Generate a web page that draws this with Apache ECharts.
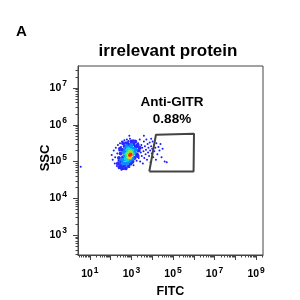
<!DOCTYPE html>
<html>
<head>
<meta charset="utf-8">
<script src="https://cdn.jsdelivr.net/npm/echarts@6/dist/echarts.min.js"></script>
<style>
html, body { margin: 0; padding: 0; background: #fff; }
#chart { width: 300px; height: 300px; }
</style>
</head>
<body>
<div id="chart"></div>
<script>
// all values are log10 units (FITC on x, SSC on y)
var xTicks = [1, 2, 3, 4, 5, 6, 7, 8, 9];
var xLabels = [1, 3, 5, 7, 9];
var yTicks = [3, 4, 5, 6, 7];
var yLabels = [3, 4, 5, 6, 7];

// gate polygon
var gateX = [3.86, 4.18, 6.01, 5.99, 3.86];
var gateY = [4.73, 5.73, 5.76, 4.73, 4.73];

// cells, grouped by density (sparse -> dense)
var bluePts = [[2.05,5.18],[2.1,5.05],[2.15,5.3],[2.2,4.95],[2.22,5.12],[2.25,5.38],[2.3,4.88],[2.32,5.22],
  [2.35,5.45],[2.38,5.02],[2.4,4.82],[2.42,5.3],[2.45,5.5],[2.48,4.92],[2.5,5.4],[2.52,4.78],[2.55,5.55],
  [2.58,4.86],[2.6,5.48],[2.62,4.8],[2.66,5.58],[2.68,4.84],[2.72,5.52],[2.75,4.79],[2.78,5.6],[2.82,4.88],
  [2.85,5.56],[2.9,4.85],[2.93,5.62],[2.98,4.92],[3.0,5.5],[3.05,4.96],[3.08,5.58],[3.1,5.05],[3.15,5.45],
  [3.18,5.12],[3.2,5.55],[3.22,5.3],[3.25,5.02],[3.28,5.4],[3.3,5.2],[3.32,5.5],[3.35,5.1],[3.38,5.35],
  [3.4,5.6],[3.42,5.0],[3.45,5.25],[3.48,5.45],[3.5,5.15],[3.52,5.38],[3.55,4.95],[3.58,5.28],[3.6,5.55],
  [3.62,5.1],[3.65,5.42],[3.68,5.2],[3.7,5.32],[3.72,5.6],[3.75,5.05],[3.78,5.48],[3.8,5.25],[3.82,5.38],
  [3.85,5.15],[3.88,5.52],[3.9,5.3],[3.92,4.98],[3.95,5.42],[3.98,5.22],[4.0,5.35],[4.02,5.55],[4.05,5.12],
  [4.08,5.45],[4.1,5.28],[4.15,5.38],[4.18,5.05],[4.2,5.5],[4.25,5.2],[4.3,5.4],[4.35,5.3],[4.4,5.48],
  [4.45,5.12],[4.5,5.35],[4.6,5.0],[4.7,4.98],[0.56,4.86],[3.1,4.9],[2.9,5.7],[3.6,5.7],[3.95,5.62]];
var densePts = [[2.35,4.95],[2.4,5.1],[2.42,4.85],[2.48,5.22],[2.5,5.0],[2.55,4.82],[2.55,5.32],[2.6,5.12],
  [2.65,4.9],[2.68,5.42],[2.72,4.82],[2.75,5.3],[2.8,5.5],[2.85,4.88],[2.9,5.45],[2.95,4.95],[3.0,5.55],
  [3.05,5.0],[3.1,5.48],[3.15,5.1],[3.2,5.4],[3.25,5.2],[3.3,5.45],[3.35,5.3],[3.4,5.38],[2.45,5.35],
  [2.6,5.5],[3.18,5.55],[2.5,4.9],[3.3,5.15]];
var cyanPts = [[2.55,5.05],[2.58,4.95],[2.62,5.25],[2.65,5.05],[2.7,5.35],[2.72,4.95],[2.78,5.42],[2.8,4.95],
  [2.88,5.38],[2.92,5.02],[3.0,5.45],[3.05,5.08],[3.1,5.35],[3.15,5.25],[3.2,5.32],[2.68,5.15],[2.98,5.4],
  [2.85,5.0]];
var aquaPts = [[2.72,5.08],[2.75,5.2],[2.8,5.3],[2.82,5.05],[2.9,5.32],[2.95,5.1],[3.02,5.3],[3.08,5.2],
  [2.85,5.35],[2.78,5.12]];
var greenPts = [[2.85,5.12],[2.9,5.22],[2.95,5.15],[3.0,5.25],[2.82,5.2],[2.92,5.28]];
var yellowPts = [[2.88,5.15],[2.95,5.2],[2.92,5.12]];
var redPts = [[2.92,5.17],[2.96,5.2]];

var X_MIN = 0.43, X_MAX = 9.33;
var Y_MIN = 2.46, Y_MAX = 7.6;
var AXIS_COLOR = '#444';
var FONT = 'Liberation Sans';
var NARROW = '"Liberation Sans Narrow", "Liberation Sans"';

// log minor ticks (2..9 in every decade)
var minorOf = function (lo, hi) {
    var out = [];
    for (var d = Math.floor(lo); d < hi; d++) {
        for (var k = 2; k <= 9; k++) {
            var v = d + Math.log10(k);
            if (v > lo && v < hi) out.push(v);
        }
    }
    return out;
};

var powLabel = function (v) {
    return '{b|10}{s|' + Math.round(v) + '}';
};
var labelRich = {
    b: { fontSize: 10.5, fontWeight: 'bold', color: '#000', fontFamily: FONT },
    s: { fontSize: 8.5, fontWeight: 'bold', color: '#000', fontFamily: FONT, padding: [0, 0, 8, 1] }
};

var mainAxis = function (min, max, ticks, labels, margin, extra) {
    var o = {
        type: 'value', min: min, max: max,
        splitLine: { show: false },
        axisLine: { show: true, lineStyle: { color: AXIS_COLOR, width: 1 } },
        axisTick: { show: true, inside: false, length: 5, customValues: ticks, lineStyle: { color: AXIS_COLOR } },
        axisLabel: { show: true, customValues: labels, formatter: powLabel, rich: labelRich, margin: margin }
    };
    for (var k in extra) o[k] = extra[k];
    return o;
};
var minorAxis = function (min, max, position) {
    return {
        type: 'value', min: min, max: max, position: position,
        splitLine: { show: false },
        axisLine: { show: false },
        axisLabel: { show: false },
        axisTick: { show: true, length: 2.5, customValues: minorOf(min, max), lineStyle: { color: AXIS_COLOR } }
    };
};

var dots = function (data, color, size) {
    return {
        type: 'scatter', data: data, symbolSize: size, silent: true,
        itemStyle: { color: color, opacity: 1 }
    };
};

var option = {
    animation: false,
    title: [
        { text: 'A', left: 11, top: 19, textStyle: { fontSize: 15, fontWeight: 'bold', color: '#000', fontFamily: FONT } },
        { text: 'irrelevant protein', left: 163, top: 38, textAlign: 'center',
          textStyle: { fontSize: 17, fontWeight: 'bold', color: '#000', fontFamily: FONT } },
        { text: 'Anti-GITR\n0.88%', left: 167, top: 89, textAlign: 'center',
          textStyle: { fontSize: 13.5, fontWeight: 'bold', color: '#000', lineHeight: 17, fontFamily: FONT } }
    ],
    grid: {
        left: 78, top: 66, right: 37, bottom: 45, outerBoundsMode: 'none',
        show: true, borderColor: AXIS_COLOR, borderWidth: 1
    },
    xAxis: [
        mainAxis(X_MIN, X_MAX, xTicks, xLabels, 11, {
            name: 'FITC', nameLocation: 'middle', nameGap: 30, nameMoveOverlap: false,
            nameTextStyle: { fontSize: 12.5, fontWeight: 'bold', color: '#000', fontFamily: FONT }
        }),
        minorAxis(X_MIN, X_MAX, 'bottom')
    ],
    yAxis: [
        mainAxis(Y_MIN, Y_MAX, yTicks, yLabels, 11, {
            name: 'SSC', nameLocation: 'middle', nameGap: 26, nameMoveOverlap: false,
            nameTextStyle: { fontSize: 13, fontWeight: 'bold', color: '#000', fontFamily: NARROW, padding: [0, 0, 0, 5] }
        }),
        minorAxis(Y_MIN, Y_MAX, 'left')
    ],
    series: [
        dots(bluePts, '#1a1aff', 2),
        dots(densePts, '#2a2aff', 4),
        dots(cyanPts, '#0a8cff', 4),
        dots(aquaPts, '#10d8d0', 4),
        dots(greenPts, '#70f040', 4),
        dots(yellowPts, '#ffd000', 4),
        dots(redPts, '#ff2a00', 3.5),
        {
            type: 'line', silent: true, symbol: 'none',
            data: gateX.map(function (x, i) { return [x, gateY[i]]; }),
            lineStyle: { color: '#444', width: 2 }
        }
    ]
};

var chart = echarts.init(document.getElementById('chart'));
chart.setOption(option);
</script>
</body>
</html>
